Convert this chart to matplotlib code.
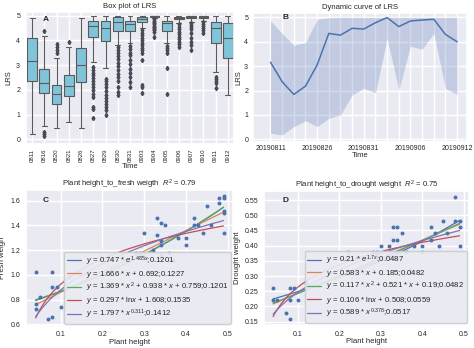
import numpy as np
import matplotlib
matplotlib.use('Agg')
import matplotlib.pyplot as plt
import seaborn as sns

sns.set_theme(style='darkgrid')
plt.rcParams['font.family'] = ['Liberation Sans', 'DejaVu Sans']
plt.rcParams['mathtext.fontset'] = 'custom'
plt.rcParams['mathtext.rm'] = 'Liberation Sans'
plt.rcParams['mathtext.it'] = 'Liberation Sans:italic'

# ---------------- data: panel A (box plot of LRS) ----------------
dates = ['0811', '0816', '0820', '0821', '0826', '0827', '0829', '0830', '0831',
         '0903', '0904', '0905', '0906', '0907', '0910', '0911', '0912']
box_q1 = [2.37, 1.86, 1.44, 1.75, 2.32, 4.12, 3.99, 4.39, 4.39, 4.76, 4.96, 4.39, 4.85, 4.89, 4.90, 3.91, 3.27]
box_med = [3.17, 2.26, 1.83, 2.16, 3.00, 4.58, 4.49, 4.76, 4.66, 4.87, 4.99, 4.69, 4.92, 4.95, 4.95, 4.49, 4.11]
box_q3 = [4.08, 2.83, 2.18, 2.61, 3.71, 4.80, 4.80, 4.96, 4.78, 4.96, 5.00, 4.80, 4.96, 5.00, 5.00, 4.76, 4.72]
box_lo = [0.22, 0.55, 0.47, 0.71, 0.47, 3.11, 2.90, 3.81, 3.91, 4.49, 4.90, 3.88, 4.70, 4.75, 4.80, 2.74, 1.79]
box_hi = [4.90, 4.19, 3.27, 3.75, 4.89, 4.99, 5.00, 5.00, 5.00, 5.00, 5.00, 5.00, 5.00, 5.00, 5.00, 5.00, 5.00]
box_fliers = [
    [],
    [4.38, 0.30, 0.22, 0.14],
    [3.85, 3.72, 3.60, 3.50],
    [3.93],
    [],
    [2.93, 2.82, 2.70, 2.60, 2.48, 2.35, 2.22, 2.10, 1.98, 1.85, 1.73, 1.32, 1.22, 0.85],
    [2.45, 2.35, 2.22, 2.10, 1.95, 1.80, 1.68, 1.55, 1.42, 1.30, 1.20, 0.97],
    [3.75, 3.62, 3.50, 3.38, 3.25, 3.10, 2.95, 2.80, 2.65, 2.50, 2.35, 2.10, 1.90, 1.80],
    [3.78, 3.65, 3.50, 3.40, 3.22, 3.05, 2.85, 2.70, 2.50, 2.30, 2.10],
    [4.42, 4.30, 4.20, 4.10, 4.00, 3.90, 3.80, 3.70, 3.60, 3.50, 3.20, 2.20, 2.10, 1.87],
    [4.85, 4.80, 4.75, 4.70, 4.65, 4.60, 4.55, 4.50, 4.45, 4.40, 4.35, 4.15],
    [3.78, 3.70, 3.60, 3.50, 2.87, 1.82],
    [4.65, 4.55, 4.45, 4.35, 4.25, 4.15, 4.05, 3.95, 3.85, 3.75],
    [4.70, 4.62, 4.55, 4.45, 4.30, 4.10, 3.95, 3.80, 3.62],
    [4.75, 4.68, 4.60, 4.50, 4.40, 4.30],
    [2.50, 2.42, 2.35, 2.28, 2.06],
    [],
]

# ---------------- data: panel B (dynamic curve) ----------------
curve_labels = ['20190811', '20190826', '20190831', '20190906', '20190912']
curve_label_idx = [0, 4, 8, 12, 16]
curve_mean = [3.16, 2.36, 1.84, 2.18, 3.05, 4.34, 4.27, 4.55, 4.52, 4.78, 4.99, 4.62, 4.85, 4.89, 4.92, 4.30, 4.00]
curve_max = [4.86, 4.34, 3.86, 3.96, 4.92, 4.98, 5.00, 5.00, 5.00, 5.00, 5.00, 5.00, 5.00, 5.00, 5.00, 5.00, 5.00]
curve_min = [0.25, 0.18, 0.52, 0.76, 0.52, 0.86, 1.00, 1.82, 2.09, 1.91, 4.14, 2.02, 3.82, 3.69, 4.34, 2.09, 1.84]

# ---------------- data: panels C and D (regressions) ----------------
plant_height = [0.04, 0.04, 0.04, 0.05, 0.07, 0.08, 0.08, 0.08, 0.09, 0.10, 0.12,
                0.28, 0.29, 0.30, 0.32, 0.33, 0.33, 0.34, 0.34, 0.34, 0.34, 0.35,
                0.36, 0.37, 0.38, 0.40, 0.40, 0.42, 0.42, 0.43, 0.44, 0.45, 0.46,
                0.48, 0.48, 0.49, 0.49, 0.49, 0.49, 0.49]
fresh_weight = [1.02, 0.76, 0.72, 0.82, 0.64, 1.02, 0.90, 0.66, 0.90, 0.74, 0.98,
                1.18, 1.18, 1.34, 1.20, 1.46, 1.32, 1.42, 1.27, 1.24, 1.16, 1.40,
                1.18, 1.12, 1.30, 1.30, 1.24, 1.46, 1.40, 1.40, 1.34, 1.56, 1.40,
                1.62, 1.58, 1.64, 1.62, 1.52, 1.50, 1.34]
ph_d = [0.04, 0.04, 0.05, 0.07, 0.08, 0.08, 0.08, 0.09, 0.10, 0.12, 0.22, 0.24,
        0.28, 0.29, 0.30, 0.32, 0.33, 0.33, 0.34, 0.34, 0.34, 0.34, 0.35, 0.36,
        0.37, 0.38, 0.40, 0.40, 0.42, 0.42, 0.43, 0.44, 0.45, 0.46, 0.48, 0.48,
        0.49, 0.49, 0.49]
drought_weight = [0.26, 0.22, 0.22, 0.18, 0.26, 0.22, 0.16, 0.26, 0.22, 0.28, 0.38, 0.36,
                  0.38, 0.38, 0.40, 0.40, 0.46, 0.42, 0.46, 0.42, 0.38, 0.36, 0.44, 0.38,
                  0.32, 0.40, 0.40, 0.38, 0.46, 0.42, 0.44, 0.40, 0.48, 0.44, 0.56, 0.48,
                  0.48, 0.46, 0.40]

# fit coefficients read from the legends
c_exp = ('0.747', '1.485'); c_lin = ('1.666', '0.692'); c_poly = ('1.369', '0.938', '0.759')
c_log = ('0.297', '1.608'); c_pow = ('1.797', '0.311')
c_rmse = ['0.1201', '0.1227', '0.1201', '0.1535', '0.1412']
d_exp = ('0.21', '1.7'); d_lin = ('0.583', '0.185'); d_poly = ('0.117', '0.521', '0.19')
d_log = ('0.106', '0.508'); d_pow = ('0.589', '0.378')
d_rmse = ['0.0487', '0.0482', '0.0482', '0.0559', '0.0517']

palette = sns.color_palette('deep')
TICK = 5.0
LAB = 5.5
TIT = 5.5

fig = plt.figure(figsize=(4.74, 3.48), dpi=100)

# ---------------- panel A ----------------
axA = fig.add_axes([26 / 474, 1 - 144 / 348, 208 / 474, 132.3 / 348])
stats = []
for i in range(len(dates)):
    stats.append(dict(med=box_med[i], q1=box_q1[i], q3=box_q3[i], whislo=box_lo[i],
                      whishi=box_hi[i], fliers=box_fliers[i], label=dates[i]))
lc = '#5a5a5a'
axA.bxp(stats, positions=range(len(dates)), widths=0.8, patch_artist=True,
        boxprops=dict(facecolor='#80c4da', edgecolor=lc, linewidth=0.8),
        medianprops=dict(color=lc, linewidth=0.8),
        whiskerprops=dict(color=lc, linewidth=0.8),
        capprops=dict(color=lc, linewidth=0.8),
        flierprops=dict(marker='d', markersize=2.2, markerfacecolor='#4a4a55',
                        markeredgecolor='#4a4a55'))
axA.set_xlim(-0.5, len(dates) - 0.5)
axA.set_ylim(-0.19, 5.16)
axA.set_xticks(range(len(dates)))
axA.set_xticklabels(dates, rotation=90)
axA.set_yticks(range(6))
axA.tick_params(axis='y', labelsize=TICK, length=0, pad=4.2)
axA.tick_params(axis='x', labelsize=4.4, length=0, pad=3.4)
axA.set_xlabel('Time', fontsize=LAB, labelpad=0.2)
axA.set_ylabel('LRS', fontsize=LAB, labelpad=2.5)
axA.set_title('Box plot of LRS', fontsize=TIT, pad=2.5)
axA.text(0.096, 0.94, 'A', transform=axA.transAxes, fontsize=6, fontweight='bold',
         ha='center', va='center')

# ---------------- panel B ----------------
axB = fig.add_axes([253 / 474, 1 - 142 / 348, 214 / 474, 129.3 / 348])
xb = np.arange(len(curve_mean))
axB.fill_between(xb, curve_min, curve_max, color=palette[0], alpha=0.25, linewidth=0)
axB.plot(xb, curve_mean, color=palette[0], linewidth=1.1)
axB.set_xticks(xb)
lbls = [''] * len(xb)
for k, t in zip(curve_label_idx, curve_labels):
    lbls[k] = t
axB.set_xticklabels(lbls)
axB.set_xlim(-1.5, len(xb) - 1 + 0.85)
axB.set_ylim(-0.11, 5.19)
axB.set_yticks(range(6))
axB.tick_params(axis='y', labelsize=TICK, length=0, pad=3.5)
axB.tick_params(axis='x', labelsize=TICK, length=0, pad=2.0)
axB.set_xlabel('Time', fontsize=LAB, labelpad=0.5)
axB.set_ylabel('LRS', fontsize=LAB, labelpad=1.5)
axB.set_title('Dynamic curve of LRS', fontsize=TIT, pad=2.5)
axB.text(0.15, 0.96, 'B', transform=axB.transAxes, fontsize=6, fontweight='bold',
         ha='center', va='center')


def draw_reg(ax, x, y, ce, cl, cp, clg, cpw, rm, title, ylabel, yticks, letter, lpos, ypad):
    x = np.asarray(x)
    ax.scatter(x, y, s=8, color=palette[0], zorder=3, linewidths=0)
    xs = np.linspace(x.min(), x.max(), 200)
    f = lambda s: float(s)
    curves = [
        (f(ce[0]) * np.exp(f(ce[1]) * xs),
         r'$y$ = %s * $e^{%s x}$;%s' % (ce[0], ce[1], rm[0])),
        (f(cl[0]) * xs + f(cl[1]),
         r'$y$ = %s * $x$ + %s;%s' % (cl[0], cl[1], rm[1])),
        (f(cp[0]) * xs ** 2 + f(cp[1]) * xs + f(cp[2]),
         r'$y$ = %s * $x^2$ + %s * $x$ + %s;%s' % (cp[0], cp[1], cp[2], rm[2])),
        (f(clg[0]) * np.log(xs) + f(clg[1]),
         r'$y$ = %s * ln$x$ + %s;%s' % (clg[0], clg[1], rm[3])),
        (f(cpw[0]) * xs ** f(cpw[1]),
         r'$y$ = %s * $x^{%s}$;%s' % (cpw[0], cpw[1], rm[4])),
    ]
    for k, (yy, lab) in enumerate(curves):
        ax.plot(xs, yy, color=palette[k], linewidth=0.9, label=lab)
    ax.set_xticks([0.1, 0.2, 0.3, 0.4, 0.5])
    ax.set_yticks(yticks)
    ax.tick_params(axis='x', labelsize=TICK, length=0, pad=4.3)
    ax.tick_params(axis='y', labelsize=TICK, length=0, pad=ypad)
    ax.set_xlabel('Plant height', fontsize=5.6, labelpad=0.3)
    ax.set_ylabel(ylabel, fontsize=5.6, labelpad=3.0)
    ax.set_title(title, fontsize=TIT, pad=2.5)
    ax.legend(loc='lower right', fontsize=5.6, borderaxespad=0.25, framealpha=0.92,
              handlelength=1.8, handletextpad=0.6, labelspacing=0.15, borderpad=0.35)
    ax.text(lpos[0], lpos[1], letter, transform=ax.transAxes, fontsize=6,
            fontweight='bold', ha='center', va='center')


axC = fig.add_axes([26.3 / 474, 1 - 325.5 / 348, 206.6 / 474, 135.9 / 348])
draw_reg(axC, plant_height, fresh_weight, c_exp, c_lin, c_poly, c_log, c_pow, c_rmse,
         r'Plant height_to_fresh weigth  $R^2$ = 0.79', 'Fresh weigh',
         [0.6, 0.8, 1.0, 1.2, 1.4, 1.6], 'C', (0.092, 0.92), 4.3)
axC.set_ylim(0.59, 1.69)

axD = fig.add_axes([263.8 / 474, 1 - 324.7 / 348, 205.1 / 474, 133.8 / 348])
draw_reg(axD, ph_d, drought_weight, d_exp, d_lin, d_poly, d_log, d_pow, d_rmse,
         r'Plant height_to_drought weight  $R^2$ = 0.75', 'Drought weight',
         [0.15, 0.20, 0.25, 0.30, 0.35, 0.40, 0.45, 0.50, 0.55], 'D', (0.107, 0.93), 3.6)
axD.set_ylim(0.14, 0.58)

fig.savefig('out.png', dpi=100)
